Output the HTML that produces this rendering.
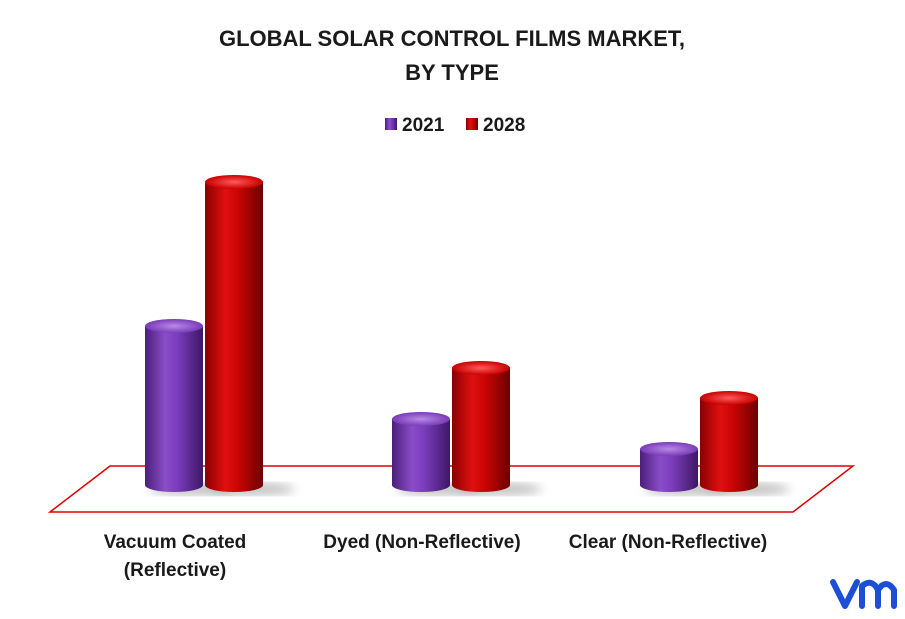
<!DOCTYPE html>
<html><head><meta charset="utf-8"><style>
body{margin:0;background:#fff;width:905px;height:614px;overflow:hidden;font-family:"Liberation Sans",sans-serif}
</style></head><body>
<svg width="905" height="614" viewBox="0 0 905 614">
<defs>
<linearGradient id="gp" x1="0" x2="1"><stop offset="0" stop-color="#4b1f7a"/><stop offset="0.35" stop-color="#8a4cc8"/><stop offset="0.55" stop-color="#7b3dbb"/><stop offset="1" stop-color="#3e1766"/></linearGradient>
<linearGradient id="gr" x1="0" x2="1"><stop offset="0" stop-color="#8a0000"/><stop offset="0.35" stop-color="#e01010"/><stop offset="0.55" stop-color="#cc0505"/><stop offset="1" stop-color="#6e0000"/></linearGradient>
<radialGradient id="tp"><stop offset="0" stop-color="#b88ae6"/><stop offset="1" stop-color="#7a3ab8"/></radialGradient>
<radialGradient id="tr"><stop offset="0" stop-color="#ff5a5a"/><stop offset="1" stop-color="#c80000"/></radialGradient>
<filter id="bl"><feGaussianBlur stdDeviation="5"/></filter>
</defs>
<text x="452" y="46" text-anchor="middle" font-size="22" font-weight="bold" fill="#1a1a1a">GLOBAL SOLAR CONTROL FILMS MARKET,</text>
<text x="452" y="80" text-anchor="middle" font-size="22" font-weight="bold" fill="#1a1a1a">BY TYPE</text>
<g>
<rect x="385" y="118" width="12" height="12" fill="url(#gp)"/>
<text x="402" y="131" font-size="19" font-weight="bold" fill="#1a1a1a">2021</text>
<rect x="466" y="118" width="12" height="12" fill="url(#gr)"/>
<text x="483" y="131" font-size="19" font-weight="bold" fill="#1a1a1a">2028</text>
</g>
<polygon points="110,466 853,466 793,512 50,512" fill="#fff" stroke="#e00000" stroke-width="1.5"/>
<g id="bars"></g>
<g font-size="19" font-weight="bold" fill="#1a1a1a" text-anchor="middle">
<text x="175" y="548">Vacuum Coated</text>
<text x="175" y="576">(Reflective)</text>
<text x="422" y="548">Dyed (Non-Reflective)</text>
<text x="668" y="548">Clear (Non-Reflective)</text>
</g>
<g fill="none" stroke="#1c4fd6" stroke-width="6" stroke-linecap="round" stroke-linejoin="round">
<path d="M833 582 L845 606 L857 582"/>
<path d="M862 606 L862 586 Q872 578 878 590 L878 606 M878 590 Q886 578 894 590 L894 606"/>
</g>
</svg>
<script>
const categories=["Vacuum Coated (Reflective)","Dyed (Non-Reflective)","Clear (Non-Reflective)"];
const values2021=[5.3,2.2,1.2];
const values2028=[10.1,3.9,2.9];
const NS="http://www.w3.org/2000/svg";
const baseY=485, scale=30, groupX=[145,392,640], w=58, ry=7;
const g=document.getElementById('bars');
function yv(v){return baseY-v*scale;}
function mk(t,a){const e=document.createElementNS(NS,t);for(const k in a)e.setAttribute(k,a[k]);return e;}
function cyl(x,v,grad,top,name){
  const y=yv(v),cx=x+w/2;
  const sh=mk('ellipse',{cx:cx+18,cy:baseY+4,rx:w/2+14,ry:6,fill:'#888',opacity:0.55,filter:'url(#bl)'});
  
  
  g.appendChild(sh);
  const b=mk('path',{d:`M${x} ${y} L${x} ${baseY} A${w/2} ${ry} 0 0 0 ${x+w} ${baseY} L${x+w} ${y} Z`,fill:`url(#${grad})`});
  
  
  g.appendChild(b);
  const t=mk('ellipse',{cx:cx,cy:y,rx:w/2,ry:ry,fill:`url(#${top})`});
  
  
  g.appendChild(t);
}
categories.forEach((c,i)=>{
  cyl(groupX[i],values2021[i],'gp','tp','bar-2021-'+i);
  cyl(groupX[i]+60,values2028[i],'gr','tr','bar-2028-'+i);
});
</script>
</body></html>
